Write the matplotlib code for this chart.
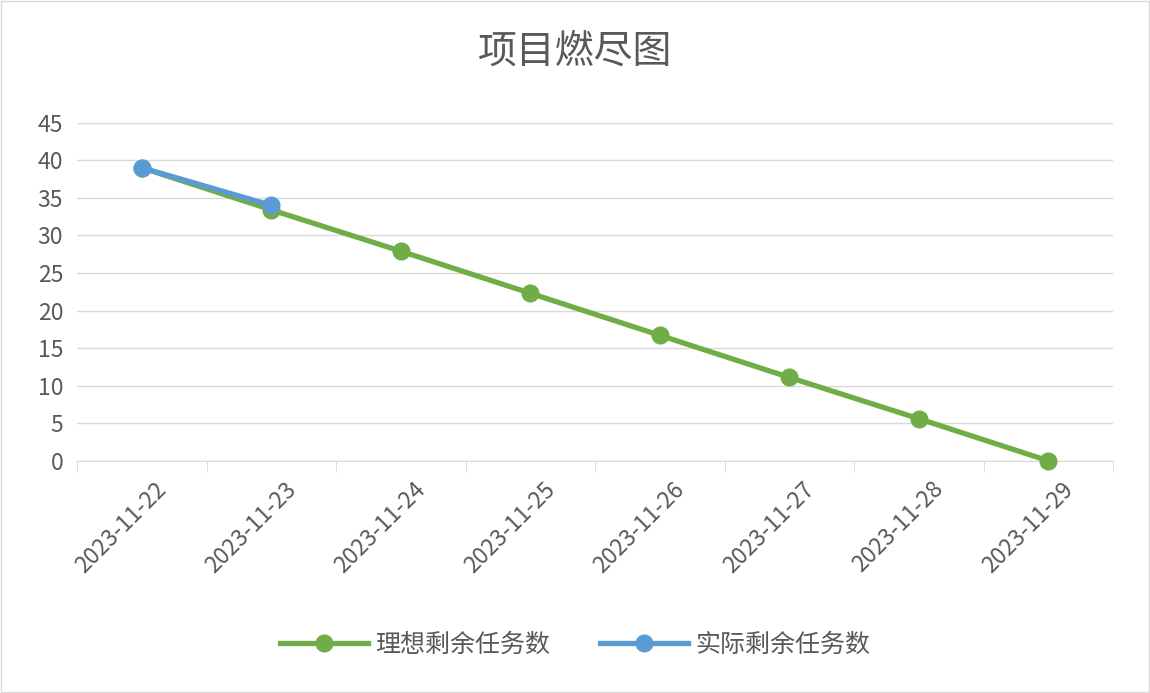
import matplotlib.pyplot as plt
from matplotlib.patches import Rectangle

plt.rcParams['font.family'] = ['Noto Sans CJK SC', 'DejaVu Sans']

dates = ['2023-11-22', '2023-11-23', '2023-11-24', '2023-11-25',
         '2023-11-26', '2023-11-27', '2023-11-28', '2023-11-29']
ideal = [39, 33.4, 27.9, 22.3, 16.7, 11.1, 5.6, 0]
actual = [39, 34]

fig = plt.figure(figsize=(11.5, 6.93), dpi=100)
ax = fig.add_axes([0.067, 0.335, 0.901, 0.488])
fig.patches.append(Rectangle((0.001, 0.001), 0.998, 0.998, transform=fig.transFigure,
                             fill=False, edgecolor='#d9d9d9', lw=1))

x = list(range(len(dates)))
ax.plot(x, ideal, color='#70ad47', lw=3.8, marker='o', ms=12, label='理想剩余任务数',
        zorder=3, clip_on=False)
ax.plot(x[:len(actual)], actual, color='#5b9bd5', lw=3.8, marker='o', ms=12, label='实际剩余任务数',
        zorder=4, clip_on=False)

ax.set_xlim(-0.5, len(dates) - 0.5)
ax.set_ylim(0, 45)
ax.set_yticks(range(0, 46, 5))
ax.set_xticks([i + 0.1 for i in x])
ax.set_xticklabels(dates, rotation=45, ha='right', rotation_mode='anchor')
ax.set_xticks([i - 0.5 for i in range(len(dates) + 1)], minor=True)
ax.tick_params(axis='x', which='major', length=0, labelsize=16.5, colors='#595959', pad=12)
ax.tick_params(axis='x', which='minor', length=8, color='#d9d9d9')
ax.tick_params(axis='y', length=0, labelsize=16.5, colors='#595959', pad=10)
ax.grid(axis='y', color='#d9d9d9', lw=1)
ax.set_axisbelow(True)
for s in ['top', 'right', 'left']:
    ax.spines[s].set_visible(False)
ax.spines['bottom'].set_color('#d9d9d9')

fig.text(0.5, 0.925, '项目燃尽图', ha='center', va='center', fontsize=28, color='#595959')
fig.legend(loc='center', bbox_to_anchor=(0.5, 0.069), ncol=2, frameon=False,
           fontsize=18, labelcolor='#595959', handlelength=3.5, handletextpad=0.3,
           columnspacing=2.0)

fig.savefig('out.png', dpi=100)
